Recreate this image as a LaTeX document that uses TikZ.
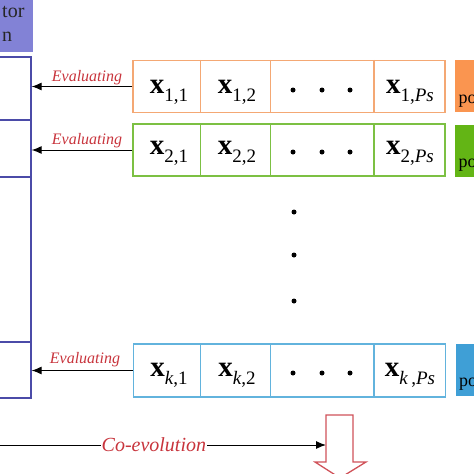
\documentclass[tikz,border=0pt]{standalone}
\usepackage{fontspec}
\setmainfont{Liberation Serif}
\usetikzlibrary{arrows.meta}
\definecolor{lbox}{HTML}{4B4BA8}
\definecolor{ttl}{HTML}{8282D6}
\definecolor{orng}{HTML}{F4A874}
\definecolor{orngf}{HTML}{FA9550}
\definecolor{grn}{HTML}{7CC043}
\definecolor{grnf}{HTML}{63B515}
\definecolor{blu}{HTML}{62B3DD}
\definecolor{bluf}{HTML}{3F9FD6}
\definecolor{lab}{HTML}{C8343C}
\newcommand\xcell[1]{{\fontsize{29}{29}\selectfont\bfseries x}\raisebox{-8pt}{\fontsize{19}{19}\selectfont #1}}
\tikzset{
  rowbox/.style={draw=#1, line width=1.3pt, minimum width=312pt, minimum height=52pt, inner sep=0pt},
  lcell/.style={draw=lbox, line width=1.3pt, minimum width=41pt, inner sep=0pt},
  celltext/.style={anchor=base, inner sep=0pt},
  evlab/.style={anchor=base, inner sep=0pt, text=lab, font=\fontsize{16}{16}\selectfont\itshape},
  evarrow/.style={-{Latex[length=10pt,width=8pt]}, line width=1pt},
  dotc/.style={fill=black, draw=none, circle, inner sep=0pt, minimum size=5pt},
  popbox/.style={fill=#1, draw=none, minimum width=30pt, minimum height=52pt, inner sep=0pt},
  poptext/.style={anchor=base west, inner sep=0pt, font=\fontsize{18}{18}\selectfont}
}
\begin{document}
\begin{tikzpicture}[x=1pt,y=-1pt]
\useasboundingbox (0,0) rectangle (474,474);
\clip (0,0) rectangle (474,474);
% title box
\node[fill=ttl, draw=none, minimum width=45pt, minimum height=62pt, inner sep=0pt] (title) at (10.5,21) {};
\node[anchor=base west, inner sep=0pt, font=\fontsize{20}{20}\selectfont, text=black!85] (t1) at (2,17) {tor};
\node[anchor=base west, inner sep=0pt, font=\fontsize{20}{20}\selectfont, text=black!85] (t2) at (2,41) {n};
% left tall box cells
\node[lcell, minimum height=63pt] (L1) at (10.5,88.5) {};
\node[lcell, minimum height=57pt] (L2) at (10.5,148.5) {};
\node[lcell, minimum height=165pt] (L3) at (10.5,259.5) {};
\node[lcell, minimum height=56pt] (L4) at (10.5,370) {};
% rows
\node[rowbox=orng] (r1) at (289,86.5) {};
\node[rowbox=grn] (r2) at (289,150) {};
\node[rowbox=blu, minimum height=53pt] (r3) at (289.5,370.5) {};
\foreach \r/\c in {r1/orng, r2/grn, r3/blu}{
  \foreach \x in {200.5,270.5,374}{
    \draw[\c, line width=1.3pt] (\r.north -| \x,0) -- (\r.south -| \x,0);
  }
}
% row 1 texts
\node[celltext] (c11) at (169,93) {\xcell{1,1}};
\node[celltext] (c12) at (237,93) {\xcell{1,2}};
\node[celltext] (c1p) at (410,93) {\xcell{1,\textit{Ps}}};
\node[dotc] (d11) at (293,90) {};
\node[dotc] (d12) at (322,90) {};
\node[dotc] (d13) at (350,90) {};
% row 2 texts
\node[celltext] (c21) at (169,154) {\xcell{2,1}};
\node[celltext] (c22) at (237,154) {\xcell{2,2}};
\node[celltext] (c2p) at (410,154) {\xcell{2,\textit{Ps}}};
\node[dotc] (d21) at (293,152) {};
\node[dotc] (d22) at (322,152) {};
\node[dotc] (d23) at (350,152) {};
% row k texts
\node[celltext] (c31) at (169,376) {\xcell{\textit{k},1}};
\node[celltext] (c32) at (237,376) {\xcell{\textit{k},2}};
\node[celltext] (c3p) at (410,376) {\xcell{\textit{k}\,,\textit{Ps}}};
\node[dotc] (d31) at (293,373) {};
\node[dotc] (d32) at (322,373) {};
\node[dotc] (d33) at (350,373) {};
% vertical dots
\node[dotc] (v1) at (294,212) {};
\node[dotc] (v2) at (294,255) {};
\node[dotc] (v3) at (294,301) {};
% population boxes
\node[popbox=orngf] (p1) at (470,86) {};
\node[popbox=grnf] (p2) at (470,150.5) {};
\node[popbox=bluf] (p3) at (471,370) {};
\node[poptext] (pt1) at (458.5,103) {po};
\node[poptext] (pt2) at (458.5,167) {po};
\node[poptext] (pt3) at (459,386) {po};
% evaluating arrows
\draw[evarrow] (r1.west) -- (r1.west -| L1.east);
\draw[evarrow] (r2.west) -- (r2.west -| L2.east);
\draw[evarrow] (r3.west) -- (r3.west -| L4.east);
\node[evlab] (e1) at (87,81) {Evaluating};
\node[evlab] (e2) at (87,144) {Evaluating};
\node[evlab] (e3) at (85,363) {Evaluating};
% co-evolution
\coordinate (cstart) at (-5,445);
\coordinate (bigarrow) at (326,445);
\draw[-{Latex[length=10pt,width=8pt]}, line width=1pt] (cstart) -- node[pos=0.48, fill=white, inner sep=1pt, text=lab, font=\fontsize{20}{20}\selectfont\itshape] (co) {Co-evolution} (bigarrow);
\draw[draw=lab!85, line width=1.3pt, line join=miter] (326,415) -- (353,415) -- (353,462) -- (366,462) -- (340,478) -- (315,462) -- (326,462) -- cycle;
\end{tikzpicture}
\end{document}
